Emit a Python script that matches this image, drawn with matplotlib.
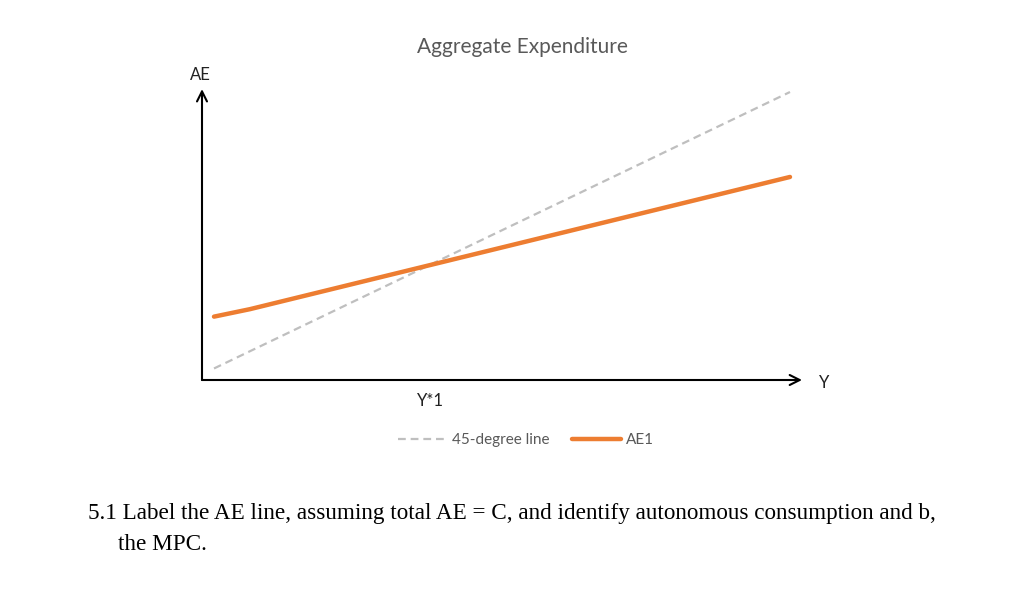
import matplotlib
matplotlib.use("Agg")
import matplotlib.pyplot as plt

# Data (arbitrary units)
deg45_x = [2, 98]
deg45_y = [4, 100]
ae1_x = [2, 8, 98]
ae1_y = [22, 24.6, 70.5]
ystar_x = 38
legend_labels = ["45-degree line", "AE1"]

W, H = 1024, 611
fig = plt.figure(figsize=(W / 100, H / 100), dpi=100)
ax = fig.add_axes([202 / W, (H - 380) / H, 600 / W, 288 / H])
ax.set_xlim(0, 100)
ax.set_ylim(0, 100)
ax.axis("off")

ui = ["Lato", "DejaVu Sans"]

l1, = ax.plot(deg45_x, deg45_y, color="#BFBFBF", lw=1.6, ls=(0, (3.5, 2.2)), clip_on=False)
l2, = ax.plot(ae1_x, ae1_y, color="#ED7D31", lw=3.2, solid_capstyle="round",
              solid_joinstyle="round", clip_on=False)

# axes arrows
ax.annotate("", xy=(0, 101), xytext=(0, 0), xycoords="data",
            arrowprops=dict(arrowstyle="->", lw=1.5, color="black", mutation_scale=18,
                            shrinkA=0, shrinkB=0), annotation_clip=False)
ax.annotate("", xy=(100, 0), xytext=(0, 0), xycoords="data",
            arrowprops=dict(arrowstyle="->", lw=1.5, color="black", mutation_scale=18,
                            shrinkA=0, shrinkB=0), annotation_clip=False)

fig.text(200 / W, 1 - 75 / H, "AE", ha="center", va="center", fontsize=12, family=ui, color="#222222")
fig.text(824 / W, 1 - 383 / H, "Y", ha="center", va="center", fontsize=12, family=ui, color="#222222")
ax.text(ystar_x, -7.3, "Y*1", ha="center", va="center", fontsize=12, family=ui, color="#222222")

fig.text(522 / W, 1 - 47 / H, "Aggregate Expenditure", ha="center", va="center",
         fontsize=15, family=ui, color="#595959")

leg = fig.legend([l1, l2], legend_labels, loc="center", bbox_to_anchor=(526 / W, 1 - 440 / H),
                 ncol=2, frameon=False, prop=dict(family=ui, size=11),
                 handlelength=3.2, handletextpad=0.3, columnspacing=1.5, labelcolor="#595959")

fig.text(88 / W, 1 - 514 / H,
         "5.1 Label the AE line, assuming total AE = C, and identify autonomous consumption and b,",
         ha="left", va="center", fontsize=16.7, family="Liberation Serif", color="black")
fig.text(118 / W, 1 - 544 / H, "the MPC.", ha="left", va="center", fontsize=16.7,
         family="Liberation Serif", color="black")

fig.savefig("out.png", dpi=100)
